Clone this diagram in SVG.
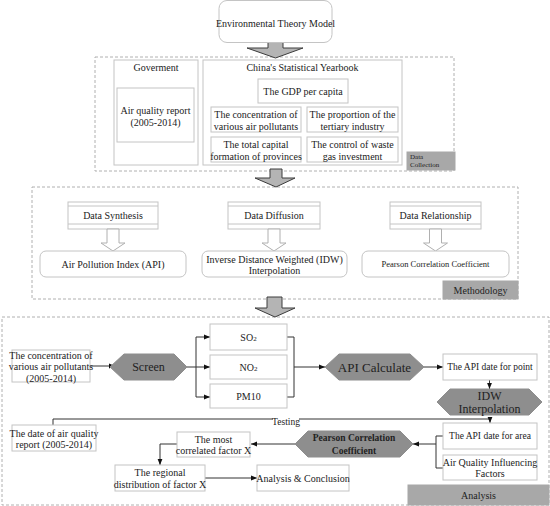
<svg xmlns="http://www.w3.org/2000/svg" width="550" height="506" viewBox="0 0 550 506">
<defs>
<style>
text{font-family:"Liberation Serif","Times New Roman",serif;fill:#222;font-size:10px;text-anchor:middle;dominant-baseline:central}
.box{fill:#fff;stroke:#c4c4c4;stroke-width:1}
.dash{fill:none;stroke:#b0b0b0;stroke-width:1;stroke-dasharray:3 2}
.hex{fill:#8e8e8e;stroke:#8e8e8e}
.lab{fill:#a8a8a8;stroke:#a8a8a8}
.big{fill:#b4b4b4;stroke:#3c3c3c;stroke-width:1}
.hol{fill:#fff;stroke:#b0b0b0;stroke-width:1}
.ln{fill:none;stroke:#333;stroke-width:1}
</style>
<marker id="ah" viewBox="0 0 10 10" refX="10" refY="5" markerWidth="6" markerHeight="6" orient="auto"><path d="M0,1 L10,5 L0,9 z" fill="#111"/></marker>
</defs>

<!-- containers -->
<rect class="dash" x="95" y="57" width="359" height="114"/>
<rect class="dash" x="32" y="187" width="486" height="112"/>
<rect class="dash" x="2" y="317" width="547" height="188"/>

<!-- big arrows -->
<g id="arrows-big">
<path class="big" d="M268,42 H283 V48 H303 L275.5,58 L247,48 H268 Z"/>
<path class="big" d="M270,169 H282 V178 H295 L276,187 L255,178 H270 Z"/>
<path class="big" d="M267,297 H282 V308 H295 L275,317 L255,308 H267 Z"/>
</g>

<g id="n-theory"><rect class="box" x="219" y="0.5" width="113" height="42" rx="8"/><text x="275.5" y="23">Environmental Theory Model</text></g>

<!-- Data collection -->
<g id="n-gov"><rect class="box" x="114" y="60" width="84" height="105"/><text x="156" y="67">Goverment</text></g>
<g id="n-aqr"><rect class="box" x="117" y="88" width="77" height="54"/><text x="155.5" y="110">Air quality report</text><text x="155.5" y="122">(2005-2014)</text></g>
<g id="n-csy"><rect class="box" x="203" y="60" width="199" height="105"/><text x="302.5" y="67">China's Statistical Yearbook</text></g>
<g id="n-gdp"><rect class="box" x="258" y="79" width="90" height="24"/><text x="303" y="91">The GDP per capita</text></g>
<g id="n-conc"><rect class="box" x="211" y="107" width="90" height="25"/><text x="256" y="114">The concentration of</text><text x="256" y="126">various air pollutants</text></g>
<g id="n-prop"><rect class="box" x="307" y="107" width="91" height="25"/><text x="352.5" y="114">The proportion of the</text><text x="352.5" y="126">tertiary industry</text></g>
<g id="n-cap"><rect class="box" x="211" y="137" width="90" height="25"/><text x="256" y="144">The total capital</text><text x="256" y="156">formation of provinces</text></g>
<g id="n-ctrl"><rect class="box" x="307" y="137" width="91" height="25"/><text x="352.5" y="144">The control of waste</text><text x="352.5" y="156">gas investment</text></g>
<g id="l-dc"><rect class="lab" x="407" y="152" width="48" height="18"/><text x="410" y="157" style="font-size:7px;text-anchor:start">Data</text><text x="410" y="165" style="font-size:7px;text-anchor:start">Collection</text></g>

<!-- Methodology -->
<g id="n-ds"><rect class="box" x="68" y="202" width="90" height="27"/><path class="ln" style="stroke:#c4c4c4" d="M68,206 H158 M68,224 H158"/><text x="113" y="215">Data Synthesis</text></g>
<g id="n-dd"><rect class="box" x="228" y="202" width="92" height="27"/><path class="ln" style="stroke:#c4c4c4" d="M228,206 H320 M228,224 H320"/><text x="274" y="215">Data Diffusion</text></g>
<g id="n-dr"><rect class="box" x="390" y="202" width="91" height="27"/><path class="ln" style="stroke:#c4c4c4" d="M390,206 H481 M390,224 H481"/><text x="435.5" y="215">Data Relationship</text></g>
<g id="arrows-hollow">
<path class="hol" d="M107,229 H119 V243 H125 L113,251 L101,243 H107 Z"/>
<path class="hol" d="M268,229 H280 V243 H286 L274,251 L262,243 H268 Z"/>
<path class="hol" d="M429.5,229 H441.5 V243 H447.5 L435.5,251 L423.5,243 H429.5 Z"/>
</g>
<g id="n-api"><rect class="box" x="40" y="251" width="146" height="26" rx="6"/><text x="113" y="264">Air Pollution Index (API)</text></g>
<g id="n-idw"><rect class="box" x="202" y="251" width="145" height="26" rx="6"/><text x="274.5" y="259">Inverse Distance Weighted (IDW)</text><text x="274.5" y="270">Interpolation</text></g>
<g id="n-pcc"><rect class="box" x="362" y="251" width="147" height="26" rx="6"/><text x="435.5" y="264" style="font-size:8.5px">Pearson Correlation Coefficient</text></g>
<g id="l-meth"><rect class="lab" x="443" y="281" width="75" height="18"/><text x="480.5" y="290.5">Methodology</text></g>

<!-- Analysis -->
<g id="connectors">
<path class="ln" marker-end="url(#ah)" d="M90,366 H115"/>
<path class="ln" d="M187,367 H196 M196,337 V397"/>
<path class="ln" marker-end="url(#ah)" d="M196,337 H210"/>
<path class="ln" marker-end="url(#ah)" d="M196,367 H210"/>
<path class="ln" marker-end="url(#ah)" d="M196,397 H210"/>
<path class="ln" d="M287,337 H294 V397 H287"/>
<path class="ln" marker-end="url(#ah)" d="M294,367 H325"/>
<path class="ln" marker-end="url(#ah)" d="M424,367 H443"/>
<path class="ln" marker-end="url(#ah)" d="M489.5,380 V389"/>
<path class="ln" d="M53,425 V419 H273"/>
<path class="ln" marker-end="url(#ah)" d="M299,419 H490 V423"/>
<path class="ln" d="M443,436 H436 V468 H443"/>
<path class="ln" marker-end="url(#ah)" d="M436,444 H413"/>
<path class="ln" marker-end="url(#ah)" d="M295,444 H251"/>
<path class="ln" marker-end="url(#ah)" d="M177,444 H160 V465"/>
<path class="ln" marker-end="url(#ah)" d="M205,478 H257"/>
<text x="286" y="422" style="font-size:9.5px">Testing</text>
</g>
<g id="n-concA"><rect class="box" x="12" y="350" width="78" height="32"/><text x="51" y="355">The concentration of</text><text x="51" y="366.5">various air pollutants</text><text x="51" y="378">(2005-2014)</text></g>
<g id="n-screen"><polygon class="hex" points="110,367 124,354 174,354 187,367 174,380 124,380"/><text x="148.5" y="367" style="font-size:12px">Screen</text></g>
<g id="n-so2"><rect class="box" x="210" y="324" width="77" height="26"/><text x="248.5" y="337">SO<tspan style="font-size:7px" dy="2">2</tspan></text></g>
<g id="n-no2"><rect class="box" x="210" y="355" width="77" height="24"/><text x="248.5" y="367">NO<tspan style="font-size:7px" dy="2">2</tspan></text></g>
<g id="n-pm10"><rect class="box" x="210" y="384" width="77" height="24"/><text x="248.5" y="396">PM10</text></g>
<g id="n-apic"><polygon class="hex" points="325,367 339,354 410,354 424,367 410,380 339,380"/><text x="374.5" y="367" style="font-size:13px">API Calculate</text></g>
<g id="n-point"><rect class="box" x="443" y="354" width="94" height="26"/><text x="490" y="367" style="font-size:9.5px">The API date for point</text></g>
<g id="n-idwi"><polygon class="hex" points="437,402 450,389 529,389 542,402 529,415 450,415"/><text x="489.5" y="396" style="font-size:12px">IDW</text><text x="489.5" y="409" style="font-size:12px">Interpolation</text></g>
<g id="n-date"><rect class="box" x="12" y="425" width="84" height="26"/><text x="54" y="433">The date of air quality</text><text x="54" y="444">report (2005-2014)</text></g>
<g id="n-area"><rect class="box" x="443" y="423" width="94" height="26"/><text x="490" y="436" style="font-size:9.5px">The API date for area</text></g>
<g id="n-aqif"><rect class="box" x="443" y="455" width="94" height="25"/><text x="490" y="462">Air Quality Influencing</text><text x="490" y="473">Factors</text></g>
<g id="n-pear"><polygon class="hex" points="295,444 308,431 400,431 413,444 400,457 308,457"/><text x="354" y="438" style="font-weight:bold;font-size:9.5px">Pearson Correlation</text><text x="354" y="451" style="font-weight:bold;font-size:9.5px">Coefficient</text></g>
<g id="n-most"><rect class="box" x="177" y="432" width="73" height="25"/><text x="213.5" y="439">The most</text><text x="213.5" y="450">correlated factor X</text></g>
<g id="n-reg"><rect class="box" x="115" y="465" width="90" height="26"/><text x="160" y="472">The regional</text><text x="160" y="484">distribution of factor X</text></g>
<g id="n-anc"><rect class="box" x="257" y="465" width="92" height="26"/><text x="303" y="478">Analysis &amp; Conclusion</text></g>
<g id="l-an"><rect class="lab" x="408" y="485" width="141" height="20"/><text x="478.5" y="495">Analysis</text></g>
</svg>
